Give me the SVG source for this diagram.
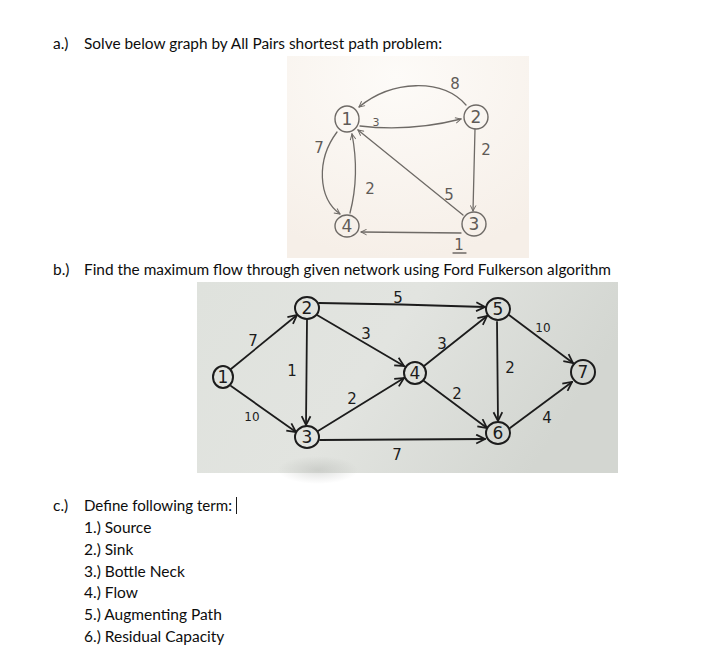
<svg xmlns="http://www.w3.org/2000/svg" width="712" height="658" viewBox="0 0 712 658">
<defs>
<style>
.doc{font-family:Lato,"Open Sans","Liberation Sans",sans-serif;font-size:15.5px;fill:#0d0d0d}
.e1{fill:none;stroke:#6e6a66;stroke-width:1.3;stroke-linecap:round}
.c1{fill:none;stroke:#6e6a66;stroke-width:1.4}
.t1{font-family:"DejaVu Sans","Liberation Sans",sans-serif;font-size:15px;fill:#5f5b57;text-anchor:middle}
.n1{font-family:"DejaVu Sans","Liberation Sans",sans-serif;font-size:17px;fill:#5f5b57;text-anchor:middle}
.e2{fill:none;stroke:#1c1c1c;stroke-width:1.8;stroke-linecap:round}
.c2{fill:none;stroke:#1c1c1c;stroke-width:2}
.t2{font-family:"DejaVu Sans","Liberation Sans",sans-serif;font-size:15px;fill:#1c1c1c;text-anchor:middle}
.n2{font-family:"DejaVu Sans","Liberation Sans",sans-serif;font-size:17px;fill:#1c1c1c;text-anchor:middle}
</style>
<marker id="a1" viewBox="0 0 10 10" refX="9" refY="5" markerWidth="7" markerHeight="7" orient="auto" markerUnits="userSpaceOnUse">
<path d="M1,1 L9,5 L1,9" fill="none" stroke="#6e6a66" stroke-width="1.4"/>
</marker>
<marker id="a2" viewBox="0 0 10 10" refX="9" refY="5" markerWidth="11" markerHeight="11" orient="auto" markerUnits="userSpaceOnUse">
<path d="M1,1 L9,5 L1,9" fill="none" stroke="#1c1c1c" stroke-width="1.6"/>
</marker>
<radialGradient id="bg1" cx="0.45" cy="0.1" r="0.9">
<stop offset="0" stop-color="#fdfbf8"/>
<stop offset="1" stop-color="#f6efe8"/>
</radialGradient>
<linearGradient id="bg2" x1="0" y1="0" x2="1" y2="0.3">
<stop offset="0" stop-color="#dfe2dd"/>
<stop offset="0.5" stop-color="#e2e4e0"/>
<stop offset="1" stop-color="#d3d6d1"/>
</linearGradient>
<radialGradient id="sh" cx="0.5" cy="0.5" r="0.5">
<stop offset="0" stop-color="#a4a7a2" stop-opacity="0.35"/>
<stop offset="1" stop-color="#a4a7a2" stop-opacity="0"/>
</radialGradient>
</defs>
<rect width="712" height="658" fill="#ffffff"/>

<g id="text-a">
<text class="doc" x="53" y="49">a.)</text>
<text class="doc" x="84" y="49" textLength="358" lengthAdjust="spacingAndGlyphs">Solve below graph by All Pairs shortest path problem:</text>
</g>

<g id="photo-1">
<rect x="287" y="56" width="242" height="202" fill="url(#bg1)"/>
</g>

<g id="graph1-connectors">
<path class="e1" d="M466,105 C442,78 392,80 359,107" marker-end="url(#a1)"/>
<path class="e1" d="M360,126 Q410,132 461,119" marker-end="url(#a1)"/>
<path class="e1" d="M475,129 L473,211" marker-end="url(#a1)"/>
<path class="e1" d="M463,215 L358,130" marker-end="url(#a1)"/>
<path class="e1" d="M461,233 L361,232" marker-end="url(#a1)"/>
<path class="e1" d="M337,132 C316,160 318,198 340,214" marker-end="url(#a1)"/>
<path class="e1" d="M350,213 C357,186 357,160 352,134" marker-end="url(#a1)"/>
<text class="t1" x="455" y="89">8</text>
<text class="t1" x="376" y="126" style="font-size:11px">3</text>
<text class="t1" x="486" y="155">2</text>
<text class="t1" x="449" y="200">5</text>
<text class="t1" x="459" y="250">1</text>
<path class="e1" d="M453,253 L466,253"/>
<text class="t1" x="319" y="153">7</text>
<text class="t1" x="370" y="194">2</text>
</g>

<g id="g1-node-1"><ellipse class="c1" cx="347" cy="119" rx="12" ry="13"/><text class="n1" x="347" y="125">1</text></g>
<g id="g1-node-2"><ellipse class="c1" cx="476" cy="117" rx="12" ry="12"/><text class="n1" x="476" y="123">2</text></g>
<g id="g1-node-3"><ellipse class="c1" cx="474" cy="224" rx="12" ry="12"/><text class="n1" x="474" y="230">3</text></g>
<g id="g1-node-4"><ellipse class="c1" cx="347" cy="226" rx="12" ry="11"/><text class="n1" x="347" y="232">4</text></g>

<g id="text-b">
<text class="doc" x="53" y="275">b.)</text>
<text class="doc" x="84" y="275" textLength="527" lengthAdjust="spacingAndGlyphs">Find the maximum flow through given network using Ford Fulkerson algorithm</text>
</g>

<g id="photo-2">
<rect x="197" y="282" width="421" height="191" fill="url(#bg2)"/>
<ellipse cx="318" cy="470" rx="40" ry="14" fill="url(#sh)"/>
</g>

<g id="graph2-connectors">
<path class="e2" d="M231,369 L297,315" marker-end="url(#a2)"/>
<path class="e2" d="M231,386 L296,432" marker-end="url(#a2)"/>
<path class="e2" d="M319,303 Q400,304 485,307" marker-end="url(#a2)"/>
<path class="e2" d="M307,320 L306,425" marker-end="url(#a2)"/>
<path class="e2" d="M317,315 L404,366" marker-end="url(#a2)"/>
<path class="e2" d="M318,431 L404,378" marker-end="url(#a2)"/>
<path class="e2" d="M320,440 L485,439" marker-end="url(#a2)"/>
<path class="e2" d="M424,366 L487,316" marker-end="url(#a2)"/>
<path class="e2" d="M424,381 L487,428" marker-end="url(#a2)"/>
<path class="e2" d="M497,322 L498,421" marker-end="url(#a2)"/>
<path class="e2" d="M509,315 L573,363" marker-end="url(#a2)"/>
<path class="e2" d="M510,428 L572,382" marker-end="url(#a2)"/>
<text class="t2" x="253" y="346">7</text>
<text class="t2" x="252" y="421" style="font-size:12px">10</text>
<text class="t2" x="398" y="303">5</text>
<text class="t2" x="366" y="339">3</text>
<text class="t2" x="292" y="376">1</text>
<text class="t2" x="352" y="404">2</text>
<text class="t2" x="442" y="349">3</text>
<text class="t2" x="457" y="399">2</text>
<text class="t2" x="510" y="373">2</text>
<text class="t2" x="543" y="332" style="font-size:12px">10</text>
<text class="t2" x="547" y="423">4</text>
<text class="t2" x="397" y="460">7</text>
</g>

<g id="g2-node-1"><ellipse class="c2" cx="223" cy="377" rx="10" ry="11"/><text class="n2" x="223" y="383">1</text></g>
<g id="g2-node-2"><ellipse class="c2" cx="307" cy="308" rx="12" ry="11"/><text class="n2" x="307" y="314">2</text></g>
<g id="g2-node-3"><ellipse class="c2" cx="307" cy="437" rx="12" ry="11"/><text class="n2" x="307" y="443">3</text></g>
<g id="g2-node-4"><ellipse class="c2" cx="415" cy="373" rx="11" ry="11"/><text class="n2" x="415" y="379">4</text></g>
<g id="g2-node-5"><ellipse class="c2" cx="498" cy="309" rx="12" ry="11"/><text class="n2" x="498" y="315">5</text></g>
<g id="g2-node-6"><ellipse class="c2" cx="498" cy="433" rx="12" ry="11"/><text class="n2" x="498" y="439">6</text></g>
<g id="g2-node-7"><ellipse class="c2" cx="583" cy="372" rx="12" ry="12"/><text class="n2" x="583" y="378">7</text></g>

<g id="text-c">
<text class="doc" x="53" y="511">c.)</text>
<text class="doc" x="84" y="511" textLength="148" lengthAdjust="spacingAndGlyphs">Define following term:</text>
<line x1="236.5" y1="497" x2="236.5" y2="514" stroke="#1a1a1a" stroke-width="1"/>
<text class="doc" x="84" y="533">1.) Source</text>
<text class="doc" x="84" y="555">2.) Sink</text>
<text class="doc" x="84" y="577">3.) Bottle Neck</text>
<text class="doc" x="84" y="598">4.) Flow</text>
<text class="doc" x="84" y="620">5.) Augmenting Path</text>
<text class="doc" x="84" y="642">6.) Residual Capacity</text>
</g>
</svg>
